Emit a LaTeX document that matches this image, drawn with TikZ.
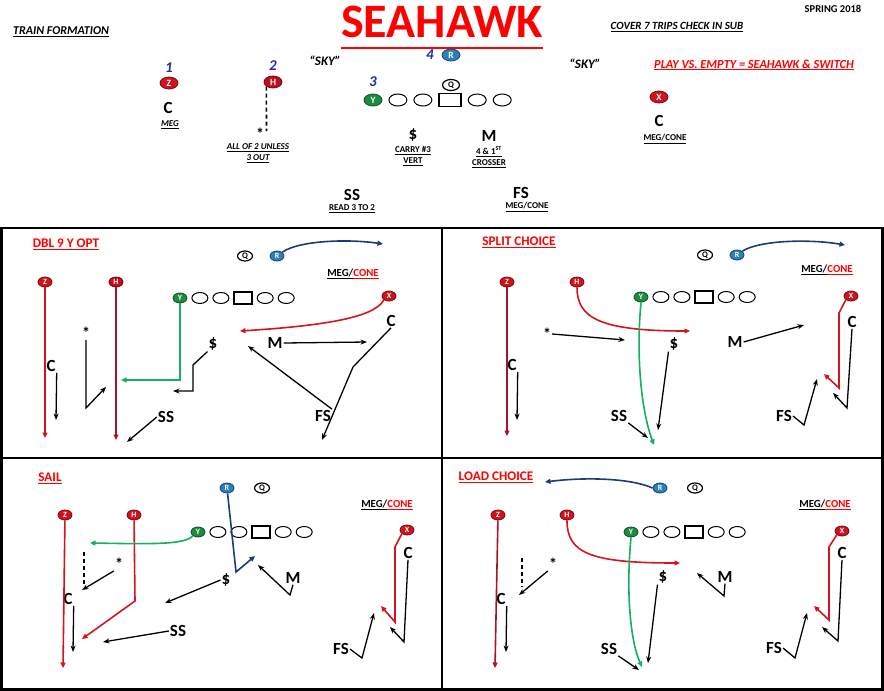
\documentclass[tikz,border=0pt]{standalone}
\usepackage{fontspec}
\setmainfont{Carlito}
\usetikzlibrary{positioning,shapes.geometric,arrows.meta}

\definecolor{zred}{HTML}{D3121C}
\definecolor{hred}{HTML}{C40A1E}
\definecolor{ygreen}{HTML}{1C8C40}
\definecolor{rblue}{HTML}{2A80BA}
\definecolor{rtblue}{HTML}{1B3C78}
\definecolor{rline}{HTML}{D4141E}
\definecolor{hline}{HTML}{A8142C}
\definecolor{gline}{HTML}{12B060}
\definecolor{numblue}{HTML}{1E2AB4}

\tikzset{
  plr/.style={ellipse, draw=#1!55!black, fill=#1, text=white, line width=0.8pt,
    minimum width=14pt, minimum height=10pt, inner sep=0pt,
    font=\bfseries\fontsize{8}{8}\selectfont},
  bigp/.style={minimum width=18pt, minimum height=12pt,
    font=\bfseries\fontsize{9.5}{9.5}\selectfont},
  ol/.style={ellipse, draw, line width=1pt, minimum width=16pt, minimum height=11pt, inner sep=0pt},
  ctr/.style={draw, line width=1.3pt, minimum width=18pt, minimum height=12pt, inner sep=0pt},
  qbk/.style={ellipse, draw, line width=1.2pt, fill=white, minimum width=15pt, minimum height=10pt,
    inner sep=0pt, font=\bfseries\fontsize{8.5}{8.5}\selectfont},
  dlbl/.style={font=\bfseries\fontsize{17}{17}\selectfont, inner sep=1pt},
  ast/.style={font=\bfseries\fontsize{16}{16}\selectfont, inner sep=1pt},
  ptitle/.style={text=red, font=\bfseries\fontsize{13.2}{13.2}\selectfont},
  megc/.style={font=\bfseries\fontsize{10.8}{10.8}\selectfont},
  sub/.style={font=\bfseries\fontsize{9}{11}\selectfont, align=center},
  subi/.style={sub, font=\bfseries\itshape\fontsize{9}{11}\selectfont},
  hdr/.style={font=\bfseries\itshape\fontsize{11}{11}\selectfont},
  num/.style={text=numblue, font=\bfseries\itshape\fontsize{15}{15}\selectfont},
  rte/.style={line width=1.6pt, -{Triangle[length=5.5pt,width=5pt]}},
  def/.style={line width=1.3pt, -{Stealth[length=6.5pt,width=5pt]}},
  dsh/.style={line width=1.6pt, dash pattern=on 4pt off 3pt},
}

% offensive line to the right of the Y
\newcommand{\oline}[2]{%
  \node[ol, right=#2 of y#1] (ltk#1) {};
  \node[ol, right=#2 of ltk#1] (lgd#1) {};
  \node[ctr, right=#2 of lgd#1] (ce#1) {};
  \node[ol, right=#2 of ce#1] (rgd#1) {};
  \node[ol, right=#2 of rgd#1] (rtk#1) {};
}

\begin{document}
\begin{tikzpicture}[x=1pt, y=-1pt]
  \fill[white] (0,0) rectangle (884,691);
  \useasboundingbox (0,0) rectangle (884,691);

  % header
  \node[hdr, font=\bfseries\itshape\fontsize{12}{12}\selectfont] (train) at (61,32) {\underline{TRAIN FORMATION}};
  \node[text=red, font=\bfseries\fontsize{48}{48}\selectfont, inner sep=0pt] (seahawk) at (442,22) {SEAHAWK};
  \draw[red, line width=2.5pt] ([yshift=-10pt]seahawk.south west) -- ([yshift=-10pt]seahawk.south east);
  \node[font=\bfseries\fontsize{10.5}{10.5}\selectfont] (spring) at (833,9) {SPRING 2018};
  \node[hdr] (cover) at (677,27) {\underline{COVER 7 TRIPS CHECK IN SUB}};
  \node[hdr, text=red, font=\bfseries\itshape\fontsize{12.3}{12.3}\selectfont] (empty) at (754,65) {\underline{PLAY VS. EMPTY = SEAHAWK \& SWITCH}};
  \node[hdr, font=\bfseries\itshape\fontsize{13}{13}\selectfont] (sky1) at (325,61) {“SKY”};
  \node[hdr, font=\bfseries\itshape\fontsize{13}{13}\selectfont] (sky2) at (585,64) {“SKY”};

  % train formation
  \node[num] (n1) at (169,68) {1};
  \node[num] (n2) at (273,66) {2};
  \node[num] (n3) at (373,82) {3};
  \node[num] (n4) at (430,55) {4};
  \begin{scope}[ol/.append style={minimum width=18pt, minimum height=12pt},
                ctr/.append style={minimum width=22pt, minimum height=13pt}]
    \node[plr=zred, bigp] (z0) at (169,83) {Z};
    \node[plr=hred, bigp] (h0) at (273,82) {H};
    \node[plr=rblue, bigp] (r0) at (451,55) {R};
    \node[plr=ygreen, bigp] (y0) at (373,100) {Y};
    \oline{0}{6pt}
    \node[qbk, minimum width=17pt, minimum height=11pt] (q0) at (451,85) {Q};
    \node[plr=zred, bigp] (x0) at (659,97) {X};
  \end{scope}
  \node[dlbl] (cz0) at (168,108) {C};
  \node[subi] (meg0) at (170,125) {\underline{MEG}};
  \node[ast] (st0) at (260,134) {*};
  \node[subi] (all0) at (258,153) {\underline{ALL OF 2 UNLESS}\\\underline{3 OUT}};
  \node[dlbl] (dl0) at (413,135) {\$};
  \node[sub] (car0) at (413,156) {\underline{CARRY \#3}\\\underline{VERT}};
  \node[dlbl] (nm0) at (489,136) {M};
  \node[sub] (crs0) at (489,157) {\underline{4 \& 1\textsuperscript{ST}}\\\underline{CROSSER}};
  \node[dlbl] (nss0) at (352,195) {SS};
  \node[sub] (rd0) at (352,209) {\underline{READ 3 TO 2}};
  \node[dlbl] (nfs0) at (521,193) {FS};
  \node[sub] (mc0) at (527,207) {\underline{MEG/CONE}};
  \node[dlbl] (cx0) at (659,121) {C};
  \node[sub] (mcx0) at (665,139) {\underline{MEG/CONE}};
  \coordinate (ds0) at (266.5,131);
  \draw[dsh] (h0.south west) -- (ds0);

  % panel frames
  \draw[line width=2.5pt] (1.5,228) rectangle (882.5,689.5);
  \draw[line width=2.5pt] (0,458) -- (884,458);
  \draw[line width=2.5pt] (442,228) -- (442,689.5);

  % DBL 9 Y OPT
  \node[ptitle] (t1) at (66,244) {\underline{DBL 9 Y OPT}};
  \node[qbk] (q1) at (245,256) {Q};
  \node[plr=rblue] (r1) at (277,256) {R};
  \node[megc] (mc1) at (353,274) {\underline{MEG/}\textcolor{red}{\underline{CONE}}};
  \node[plr=zred] (z1) at (45,282) {Z};
  \node[plr=hred] (h1) at (116,282) {H};
  \node[plr=ygreen] (y1) at (180,298) {Y};
  \oline{1}{4pt}
  \node[plr=zred] (x1) at (389,296) {X};
  \node[ast] (st1) at (86,333) {*};
  \node[dlbl] (cz1) at (51,366) {C};
  \node[dlbl] (dl1) at (213,344) {\$};
  \node[dlbl] (nm1) at (275,343) {M};
  \node[dlbl] (cx1) at (391,321) {C};
  \node[dlbl] (nss1) at (166,417) {SS};
  \node[dlbl] (nfs1) at (323,416) {FS};
  \coordinate (r1e) at (383,244);
  \coordinate (z1e) at (45,438);
  \coordinate (h1e) at (116,440);
  \coordinate (y1m) at (180,380);
  \coordinate (y1e) at (121,380);
  \coordinate (x1e) at (240,331);
  \coordinate (st1m) at (86,408);
  \coordinate (st1e) at (106,387);
  \coordinate (cz1e) at (56,420);
  \coordinate (dl1a) at (193,365);
  \coordinate (dl1b) at (193,391);
  \coordinate (dl1e) at (173,391);
  \coordinate (nm1e) at (367,342);
  \coordinate (nfs1e) at (248,346);
  \coordinate (cx1m) at (353,367);
  \coordinate (cx1e) at (322,440);
  \coordinate (nss1e) at (127,442);
  \draw[rte, rtblue] (r1.north east) .. controls (300,240) and (350,239) .. (r1e);
  \draw[rte, rline] (z1) -- (z1e);
  \draw[rte, hline] (h1) -- (h1e);
  \draw[rte, gline] (y1) -- (y1m) -- (y1e);
  \draw[rte, rline] (x1.south west) .. controls (375,318) and (320,326) .. (x1e);
  \draw[def] (st1.south) -- (st1m) -- (st1e);
  \draw[def] (cz1.south east) -- (cz1e);
  \draw[def] (dl1.south west) -- (dl1a) -- (dl1b) -- (dl1e);
  \draw[def] (nm1.east) -- (nm1e);
  \draw[def] (nfs1.north east) -- (nfs1e);
  \draw[def] (cx1.south) -- (cx1m) -- (cx1e);
  \draw[def] (nss1.west) -- (nss1e);

  % SPLIT CHOICE
  \node[ptitle] (t2) at (519,242) {\underline{SPLIT CHOICE}};
  \node[qbk] (q2) at (705,255) {Q};
  \node[plr=rblue] (r2) at (737,255) {R};
  \node[megc] (mc2) at (827,270) {\underline{MEG/}\textcolor{red}{\underline{CONE}}};
  \node[plr=zred] (z2) at (507,282) {Z};
  \node[plr=zred] (h2) at (577,282) {H};
  \node[plr=ygreen] (y2) at (641,297) {Y};
  \oline{2}{4pt}
  \node[plr=zred] (x2) at (851,296) {X};
  \node[ast] (st2) at (547,334) {*};
  \node[dlbl] (cz2) at (512,365) {C};
  \node[dlbl] (dl2) at (674,344) {\$};
  \node[dlbl] (nm2) at (735,342) {M};
  \node[dlbl] (cx2) at (852,322) {C};
  \node[dlbl] (nss2) at (619,416) {SS};
  \node[dlbl] (nfs2) at (784,416) {FS};
  \coordinate (r2e) at (845,245);
  \coordinate (z2e) at (507,436);
  \coordinate (h2e) at (690,331);
  \coordinate (y2e) at (654,445);
  \coordinate (x2a) at (839,313);
  \coordinate (x2b) at (839,388);
  \coordinate (x2e) at (824,374);
  \coordinate (st2e) at (625,340);
  \coordinate (cz2e) at (517,420);
  \coordinate (dl2e) at (658,430);
  \coordinate (nm2e) at (804,325);
  \coordinate (cx2m) at (847,408);
  \coordinate (cx2e) at (833,393);
  \coordinate (nfs2m) at (804,425);
  \coordinate (nfs2e) at (817,379);
  \coordinate (nss2e) at (648,438);
  \draw[rte, rtblue] (r2.north east) .. controls (760,240) and (810,239) .. (r2e);
  \draw[rte, hline] (z2) -- (z2e);
  \draw[rte, rline] (h2.south) .. controls (577,318) and (600,331) .. (h2e);
  \draw[rte, gline] (y2.south) .. controls (636,355) and (641,410) .. (y2e);
  \draw[rte, rline] (x2.south west) -- (x2a) -- (x2b) -- (x2e);
  \draw[def] (st2.east) -- (st2e);
  \draw[def] (cz2.south east) -- (cz2e);
  \draw[def] (dl2.south west) -- (dl2e);
  \draw[def] (nm2.east) -- (nm2e);
  \draw[def] (cx2.south) -- (cx2m) -- (cx2e);
  \draw[def] (nfs2.east) -- (nfs2m) -- (nfs2e);
  \draw[def] (nss2.south east) -- (nss2e);

  % SAIL
  \node[ptitle] (t3) at (50,478) {\underline{SAIL}};
  \node[plr=rblue] (r3) at (227,488) {R};
  \node[qbk] (q3) at (262,488) {Q};
  \node[megc] (mc3) at (387,505) {\underline{MEG/}\textcolor{red}{\underline{CONE}}};
  \node[plr=zred] (z3) at (65,515) {Z};
  \node[plr=zred] (h3) at (134,515) {H};
  \node[plr=ygreen] (y3) at (198,532) {Y};
  \oline{3}{4pt}
  \node[plr=zred] (x3) at (407,530) {X};
  \node[ast] (st3) at (119,564) {*};
  \node[dlbl] (cz3) at (68,599) {C};
  \node[dlbl] (dl3) at (226,580) {\$};
  \node[dlbl] (nm3) at (293,578) {M};
  \node[dlbl] (cx3) at (408,553) {C};
  \node[dlbl] (nss3) at (178,631) {SS};
  \node[dlbl] (nfs3) at (341,649) {FS};
  \coordinate (z3e) at (63,668);
  \coordinate (h3m) at (135,601);
  \coordinate (h3e) at (82,639);
  \coordinate (y3e) at (90,543);
  \coordinate (r3m) at (236,572);
  \coordinate (r3e) at (255,556);
  \coordinate (x3a) at (395,547);
  \coordinate (x3b) at (395,622);
  \coordinate (x3e) at (381,606);
  \coordinate (ds3a) at (84,552);
  \coordinate (ds3b) at (84,585);
  \coordinate (st3e) at (82,590);
  \coordinate (cz3e) at (73,652);
  \coordinate (dl3e) at (165,603);
  \coordinate (nm3m) at (290,595);
  \coordinate (nm3e) at (258,565);
  \coordinate (nss3e) at (103,642);
  \coordinate (cx3m) at (404,642);
  \coordinate (cx3e) at (390,627);
  \coordinate (nfs3m) at (362,658);
  \coordinate (nfs3e) at (374,613);
  \draw[rte, rline] (z3) -- (z3e);
  \draw[rte, rline] (h3) -- (h3m) -- (h3e);
  \draw[rte, gline] (y3.south west) .. controls (185,545) and (150,544) .. (y3e);
  \draw[rte, rtblue] (r3) -- (r3m) -- (r3e);
  \draw[rte, rline] (x3.south west) -- (x3a) -- (x3b) -- (x3e);
  \draw[dsh] (ds3a) -- (ds3b);
  \draw[def] (st3.south west) -- (st3e);
  \draw[def] (cz3.south east) -- (cz3e);
  \draw[def] (dl3.west) -- (dl3e);
  \draw[def] (nm3.south) -- (nm3m) -- (nm3e);
  \draw[def] (nss3.west) -- (nss3e);
  \draw[def] (cx3.south) -- (cx3m) -- (cx3e);
  \draw[def] (nfs3.east) -- (nfs3m) -- (nfs3e);

  % LOAD CHOICE
  \node[ptitle] (t4) at (496,477) {\underline{LOAD CHOICE}};
  \node[plr=rblue] (r4) at (660,488) {R};
  \node[qbk] (q4) at (695,488) {Q};
  \node[megc] (mc4) at (825,505) {\underline{MEG/}\textcolor{red}{\underline{CONE}}};
  \node[plr=zred] (z4) at (498,515) {Z};
  \node[plr=zred] (h4) at (567,515) {H};
  \node[plr=ygreen] (y4) at (631,532) {Y};
  \oline{4}{4pt}
  \node[plr=zred] (x4) at (842,531) {X};
  \node[ast] (st4) at (553,564) {*};
  \node[dlbl] (cz4) at (501,599) {C};
  \node[dlbl] (dl4) at (663,577) {\$};
  \node[dlbl] (nm4) at (725,577) {M};
  \node[dlbl] (cx4) at (842,553) {C};
  \node[dlbl] (nss4) at (609,649) {SS};
  \node[dlbl] (nfs4) at (774,648) {FS};
  \coordinate (r4e) at (545,482);
  \coordinate (z4e) at (495,668);
  \coordinate (h4e) at (680,563);
  \coordinate (y4e) at (642,667);
  \coordinate (x4a) at (829,547);
  \coordinate (x4b) at (829,620);
  \coordinate (x4e) at (814,606);
  \coordinate (ds4a) at (522,558);
  \coordinate (ds4b) at (522,587);
  \coordinate (st4e) at (519,595);
  \coordinate (cz4e) at (506,652);
  \coordinate (dl4e) at (648,663);
  \coordinate (nm4m) at (724,596);
  \coordinate (nm4e) at (697,573);
  \coordinate (nss4e) at (639,670);
  \coordinate (cx4m) at (838,641);
  \coordinate (cx4e) at (822,627);
  \coordinate (nfs4m) at (795,658);
  \coordinate (nfs4e) at (807,613);
  \draw[rte, rtblue] (r4.west) .. controls (630,478) and (585,477) .. (r4e);
  \draw[rte, hline] (z4) -- (z4e);
  \draw[rte, rline] (h4.south) .. controls (567,553) and (590,563) .. (h4e);
  \draw[rte, gline] (y4.south) .. controls (626,590) and (630,640) .. (y4e);
  \draw[rte, rline] (x4.south west) -- (x4a) -- (x4b) -- (x4e);
  \draw[dsh] (ds4a) -- (ds4b);
  \draw[def] (st4.south west) -- (st4e);
  \draw[def] (cz4.south east) -- (cz4e);
  \draw[def] (dl4.south west) -- (dl4e);
  \draw[def] (nm4.south) -- (nm4m) -- (nm4e);
  \draw[def] (nss4.south east) -- (nss4e);
  \draw[def] (cx4.south) -- (cx4m) -- (cx4e);
  \draw[def] (nfs4.east) -- (nfs4m) -- (nfs4e);
\end{tikzpicture}
\end{document}
